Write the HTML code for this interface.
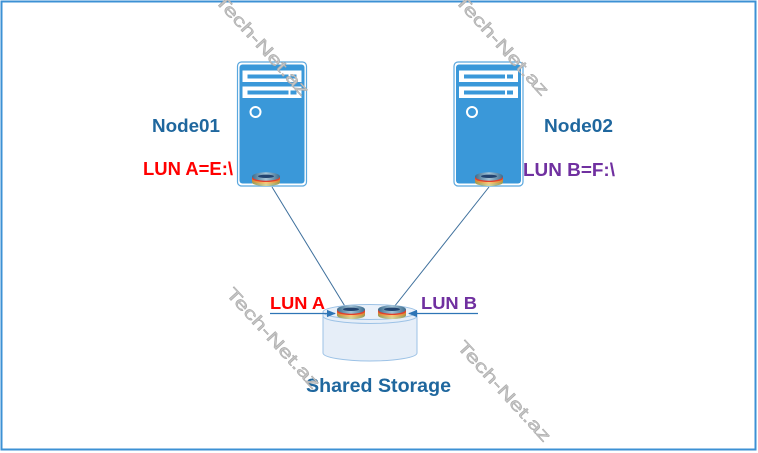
<!DOCTYPE html>
<html><head><meta charset="utf-8"><style>
html,body{margin:0;padding:0;background:#fff;}
svg{display:block;}
</style></head><body>
<svg width="758" height="453" viewBox="0 0 758 453" xmlns="http://www.w3.org/2000/svg" font-family="Liberation Sans, Arial, sans-serif">
<defs>
  <linearGradient id="dtop" x1="0" y1="0" x2="1" y2="0">
    <stop offset="0" stop-color="#3d6c8e"/><stop offset="0.5" stop-color="#a3c3d6"/><stop offset="1" stop-color="#3d6c8e"/>
  </linearGradient>
  <linearGradient id="dor" x1="0" y1="0" x2="1" y2="0">
    <stop offset="0" stop-color="#d8842e"/><stop offset="0.5" stop-color="#f8c978"/><stop offset="1" stop-color="#d8842e"/>
  </linearGradient>
  <linearGradient id="dol" x1="0" y1="0" x2="1" y2="0">
    <stop offset="0" stop-color="#9a9a55"/><stop offset="0.5" stop-color="#d6d49a"/><stop offset="1" stop-color="#9a9a55"/>
  </linearGradient>
  <g id="disk">
    <ellipse cx="14" cy="10.5" rx="14" ry="3.5" fill="url(#dol)"/>
    <rect x="0" y="8" width="28" height="2.5" fill="url(#dol)"/>
    <ellipse cx="14" cy="8.3" rx="14" ry="3.5" fill="url(#dor)"/>
    <rect x="0" y="6" width="28" height="2.3" fill="url(#dor)"/>
    <ellipse cx="14" cy="6.5" rx="14" ry="3.5" fill="#e2402c"/>
    <rect x="0" y="4.5" width="28" height="2" fill="#e2402c"/>
    <ellipse cx="14" cy="4.5" rx="14" ry="4.2" fill="url(#dtop)"/>
    <ellipse cx="14" cy="4.3" rx="8" ry="1.7" fill="#22436f"/>
  </g>
  <g id="server">
    <rect x="0.5" y="0.5" width="69" height="124" rx="4" fill="#fff" stroke="#5aa7de" stroke-width="1.2"/>
    <rect x="2.5" y="3" width="65" height="119" rx="3" fill="#3a98d9"/>
    <rect x="5.5" y="9" width="59" height="11.5" fill="#fff"/>
    <rect x="10.5" y="13" width="41" height="4" fill="#3a98d9"/>
    <rect x="53.5" y="13" width="6" height="4" fill="#3a98d9"/>
    <rect x="5.5" y="25" width="59" height="11.5" fill="#fff"/>
    <rect x="10.5" y="29" width="41" height="4" fill="#3a98d9"/>
    <rect x="53.5" y="29" width="6" height="4" fill="#3a98d9"/>
    <circle cx="18.5" cy="50.5" r="5" fill="none" stroke="#fff" stroke-width="2"/>
  </g>
  <marker id="ah" viewBox="0 0 10 10" refX="9" refY="5" markerWidth="7" markerHeight="7" orient="auto">
    <path d="M0,1 L10,5 L0,9 z" fill="#2e75b6"/>
  </marker>
</defs>

<!-- outer border -->
<rect x="1.5" y="1.5" width="754" height="448" fill="#fff" stroke="#3c91d4" stroke-width="2"/>

<!-- connectors -->
<line x1="272" y1="187" x2="346" y2="308" stroke="#3d6f9c" stroke-width="1"/>
<line x1="489" y1="187" x2="394" y2="307" stroke="#3d6f9c" stroke-width="1"/>

<!-- servers -->
<use href="#server" x="237" y="61.5"/>
<use href="#server" x="453.5" y="61.5"/>
<use href="#disk" x="252" y="172"/>
<use href="#disk" x="475" y="172"/>

<!-- storage cylinder -->
<path d="M323,312 L323,353 A47,8 0 0 0 417,353 L417,312 Z" fill="#e6eef8" stroke="#9cc2e6" stroke-width="1"/>
<ellipse cx="370" cy="312" rx="47" ry="7.5" fill="#eaf1fa" stroke="#9cc2e6" stroke-width="1"/>
<path d="M323,316 A47,7.5 0 0 0 417,316" fill="none" stroke="#9cc2e6" stroke-width="1"/>
<use href="#disk" x="337" y="305"/>
<use href="#disk" x="378" y="305"/>

<!-- arrows -->
<line x1="270" y1="313.5" x2="335" y2="313.5" stroke="#2e75b6" stroke-width="1.3" marker-end="url(#ah)"/>
<line x1="478" y1="313.5" x2="409" y2="313.5" stroke="#2e75b6" stroke-width="1.3" marker-end="url(#ah)"/>

<!-- labels -->
<g font-weight="bold">
  <text x="152" y="132" font-size="18.5" fill="#1f679e" textLength="68" lengthAdjust="spacingAndGlyphs">Node01</text>
  <text x="143" y="175" font-size="18" fill="#ff0000" textLength="90" lengthAdjust="spacingAndGlyphs">LUN A=E:\</text>
  <text x="544" y="132" font-size="18.5" fill="#1f679e" textLength="69" lengthAdjust="spacingAndGlyphs">Node02</text>
  <text x="523" y="176" font-size="18" fill="#7030a0" textLength="92" lengthAdjust="spacingAndGlyphs">LUN B=F:\</text>
  <text x="270" y="309" font-size="17.5" fill="#ff0000" textLength="55" lengthAdjust="spacingAndGlyphs">LUN A</text>
  <text x="421" y="309" font-size="17.5" fill="#7030a0" textLength="56" lengthAdjust="spacingAndGlyphs">LUN B</text>
  <text x="306" y="392" font-size="19.5" fill="#1f679e" textLength="145" lengthAdjust="spacingAndGlyphs">Shared Storage</text>
</g>

<!-- watermarks (on top) -->
<g fill="#c6c6c6" stroke="#a9a9a9" stroke-width="0.5" font-size="17">
  <text transform="translate(258,49) rotate(47.5)" text-anchor="middle" textLength="130" lengthAdjust="spacingAndGlyphs">Tech-Net.az</text>
  <text transform="translate(498,49) rotate(47.5)" text-anchor="middle" textLength="130" lengthAdjust="spacingAndGlyphs">Tech-Net.az</text>
  <text transform="translate(269,342) rotate(47.5)" text-anchor="middle" textLength="130" lengthAdjust="spacingAndGlyphs">Tech-Net.az</text>
  <text transform="translate(500,395) rotate(47.5)" text-anchor="middle" textLength="130" lengthAdjust="spacingAndGlyphs">Tech-Net.az</text>
</g>
</svg>
</body></html>
